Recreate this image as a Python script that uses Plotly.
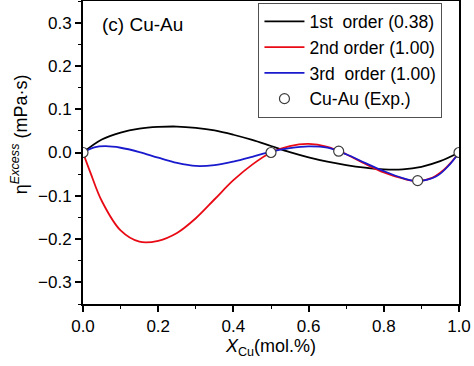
import plotly.graph_objects as go

x_first = [0.0, 0.05, 0.10, 0.15, 0.20, 0.25, 0.30, 0.35, 0.40, 0.45, 0.50, 0.55, 0.60, 0.65, 0.70, 0.75, 0.80, 0.85, 0.90, 0.95, 1.00]
y_first = [0.0, 0.030, 0.046, 0.055, 0.059, 0.060, 0.057, 0.051, 0.041, 0.029, 0.015, 0.001, -0.011, -0.021, -0.029, -0.035, -0.039, -0.039, -0.033, -0.020, 0.0]

x_second = [0.0, 0.02, 0.05, 0.10, 0.15, 0.20, 0.25, 0.30, 0.35, 0.40, 0.45, 0.50, 0.55, 0.60, 0.65, 0.70, 0.75, 0.80, 0.85, 0.89, 0.93, 0.96, 0.98, 1.0]
y_second = [0.0, -0.047, -0.112, -0.180, -0.206, -0.204, -0.186, -0.152, -0.108, -0.064, -0.028, 0.0, 0.015, 0.020, 0.013, -0.004, -0.026, -0.046, -0.060, -0.066, -0.058, -0.040, -0.022, 0.0]

x_third = [0.0, 0.03, 0.06, 0.10, 0.15, 0.20, 0.25, 0.30, 0.35, 0.40, 0.45, 0.50, 0.55, 0.60, 0.65, 0.70, 0.75, 0.80, 0.85, 0.89, 0.94, 0.975, 1.0]
y_third = [0.0, 0.012, 0.0145, 0.011, 0.001, -0.012, -0.024, -0.031, -0.029, -0.021, -0.010, 0.002, 0.010, 0.014, 0.011, -0.004, -0.024, -0.043, -0.059, -0.066, -0.055, -0.028, 0.0]

x_exp = [0.0, 0.5, 0.68, 0.89, 1.0]
y_exp = [0.0, 0.0, 0.003, -0.065, 0.0]

names = ["1st  order (0.38)", "2nd order (1.00)", "3rd  order (1.00)", "Cu-Au (Exp.)"]

FONT = "Liberation Sans, Arial, sans-serif"

fig = go.Figure()
fig.add_trace(go.Scatter(x=x_first, y=y_first, mode="lines", name=names[0],
                         line=dict(color="black", width=1.8, shape="spline")))
fig.add_trace(go.Scatter(x=x_second, y=y_second, mode="lines", name=names[1],
                         line=dict(color="rgb(232,10,20)", width=1.8, shape="spline")))
fig.add_trace(go.Scatter(x=x_third, y=y_third, mode="lines", name=names[2],
                         line=dict(color="rgb(25,25,205)", width=1.8, shape="spline")))
fig.add_trace(go.Scatter(x=x_exp, y=y_exp, mode="markers", name=names[3],
                         marker=dict(symbol="circle", size=10, color="white",
                                     line=dict(color="rgb(60,60,60)", width=1.2))))

fig.add_annotation(x=0.045, y=0.965, xref="paper", yref="paper", text="(c) Cu-Au",
                   showarrow=False, xanchor="left", yanchor="top",
                   font=dict(family=FONT, size=19, color="black"))

# y-axis title placed as rotated annotation (sits above centre in the reference)
fig.add_annotation(x=-0.168, y=0.56, xref="paper", yref="paper",
                   text="η<sup><i>Excess</i></sup> (mPa·s)", textangle=-90,
                   showarrow=False, xanchor="center", yanchor="middle",
                   font=dict(family=FONT, size=18, color="black"))

axis_common = dict(showgrid=False, zeroline=False, showline=True, linecolor="black",
                   linewidth=2, mirror=True, ticks="outside", ticklen=6, tickwidth=1.5,
                   tickcolor="black", automargin=False,
                   tickfont=dict(family=FONT, size=17, color="black"))

fig.update_xaxes(range=[0, 1], dtick=0.2, tickformat=".1f",
                 minor=dict(ticks="outside", ticklen=3, dtick=0.1, tickcolor="black", tickwidth=1.2),
                 title=dict(text="<i>X</i><sub>Cu</sub>(mol.%)", font=dict(family=FONT, size=18, color="black"), standoff=2),
                 **axis_common)
fig.update_yaxes(range=[-0.35, 0.35], dtick=0.1, tickformat=".1f",
                 minor=dict(ticks="outside", ticklen=3, dtick=0.05, tickcolor="black", tickwidth=1.2),
                 **axis_common)

fig.update_layout(
    width=474, height=366,
    margin=dict(l=83, r=15, t=1, b=62, autoexpand=False),
    paper_bgcolor="white", plot_bgcolor="white",
    font=dict(family=FONT, size=17, color="black"),
    legend=dict(x=0.956, y=0.995, xanchor="right", yanchor="top",
                bgcolor="white", bordercolor="rgb(80,80,80)", borderwidth=1,
                font=dict(family=FONT, size=17.5, color="black"),
                tracegroupgap=0, itemwidth=40),
    showlegend=True,
)

fig.write_html("out.html", config={"displayModeBar": False},
               post_script="document.body.style.margin='0px';")
